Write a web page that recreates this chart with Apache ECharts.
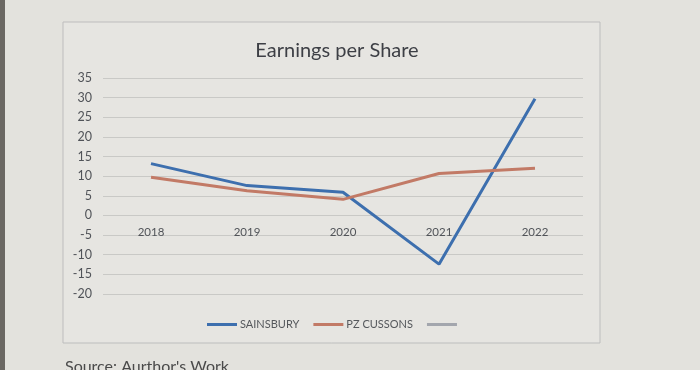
<!DOCTYPE html>
<html><head><meta charset="utf-8">
<script src="https://cdn.jsdelivr.net/npm/echarts@6/dist/echarts.min.js"></script>
<style>html,body{margin:0;padding:0;background:#e3e2dd;}#c{width:700px;height:370px;}</style>
</head><body><div id="c"></div>
<script>
var years = ['2018','2019','2020','2021','2022'];
var sainsbury = [13.2, 7.6, 5.9, -12.4, 29.7];
var pzCussons = [9.7, 6.3, 4.1, 10.7, 12.0];
var blankSeries = [];
var yTicks = {min: -20, max: 35, step: 5};

var gridTop = 78, gridBottom = 76, chartH = 370;
var plotH = chartH - gridTop - gridBottom;
var zeroOffset = -plotH * (0 - yTicks.min) / (yTicks.max - yTicks.min);

var chart = echarts.init(document.getElementById('c'));
chart.setOption({
  backgroundColor: '#e3e2dd',
  animation: false,
  graphic: [
    {type:'rect', left:0, top:0, shape:{x:0,y:0,width:5,height:370}, style:{fill:'#6b6863'}},
    {type:'rect', shape:{x:63,y:22,width:537,height:321}, style:{fill:'#e6e5e1', stroke:'#bdbdbd', lineWidth:1}, z:-1},
    {type:'text', left:65, top:359, style:{text:"Source: Aurthor's Work", font:'16px Lato', fill:'#4a4a4a'}}
  ],
  title: {
    text: 'Earnings per Share', left: 332, top: 36, textAlign: 'center',
    textStyle: {fontFamily: 'Lato', fontSize: 20, fontWeight: 'normal', color: '#3d3f45'}
  },
  legend: {
    left: 202, top: 314, itemWidth: 30, itemHeight: 3, itemGap: 14,
    icon: 'rect',
    textStyle: {fontFamily: 'Lato', fontSize: 11, color: '#55585c', padding: [0,0,0,-2]},
    data: ['SAINSBURY', 'PZ CUSSONS', ' ']
  },
  grid: {left: 103, right: 117, top: gridTop, bottom: gridBottom},
  xAxis: {
    type: 'category', data: years, boundaryGap: true, offset: zeroOffset,
    axisLine: {show: false, onZero: false}, axisTick: {show: false},
    axisLabel: {fontFamily: 'Lato', fontSize: 11.5, color: '#505358', margin: 11}
  },
  yAxis: {
    type: 'value', min: yTicks.min, max: yTicks.max, interval: yTicks.step,
    axisLine: {show: false}, axisTick: {show: false},
    axisLabel: {fontFamily: 'Lato', fontSize: 12.5, color: '#505358', margin: 11},
    splitLine: {lineStyle: {color: '#c9c9c6', width: 1}}
  },
  series: [
    {name: 'SAINSBURY', type: 'line', data: sainsbury, symbol: 'none',
     lineStyle: {color: '#3d6fae', width: 3}, itemStyle: {color: '#3d6fae'}},
    {name: 'PZ CUSSONS', type: 'line', data: pzCussons, symbol: 'none',
     lineStyle: {color: '#c27a66', width: 3}, itemStyle: {color: '#c27a66'}},
    {name: ' ', type: 'line', data: blankSeries, symbol: 'none',
     lineStyle: {color: '#a3a6ad', width: 3}, itemStyle: {color: '#a3a6ad'}}
  ]
});
</script></body></html>
